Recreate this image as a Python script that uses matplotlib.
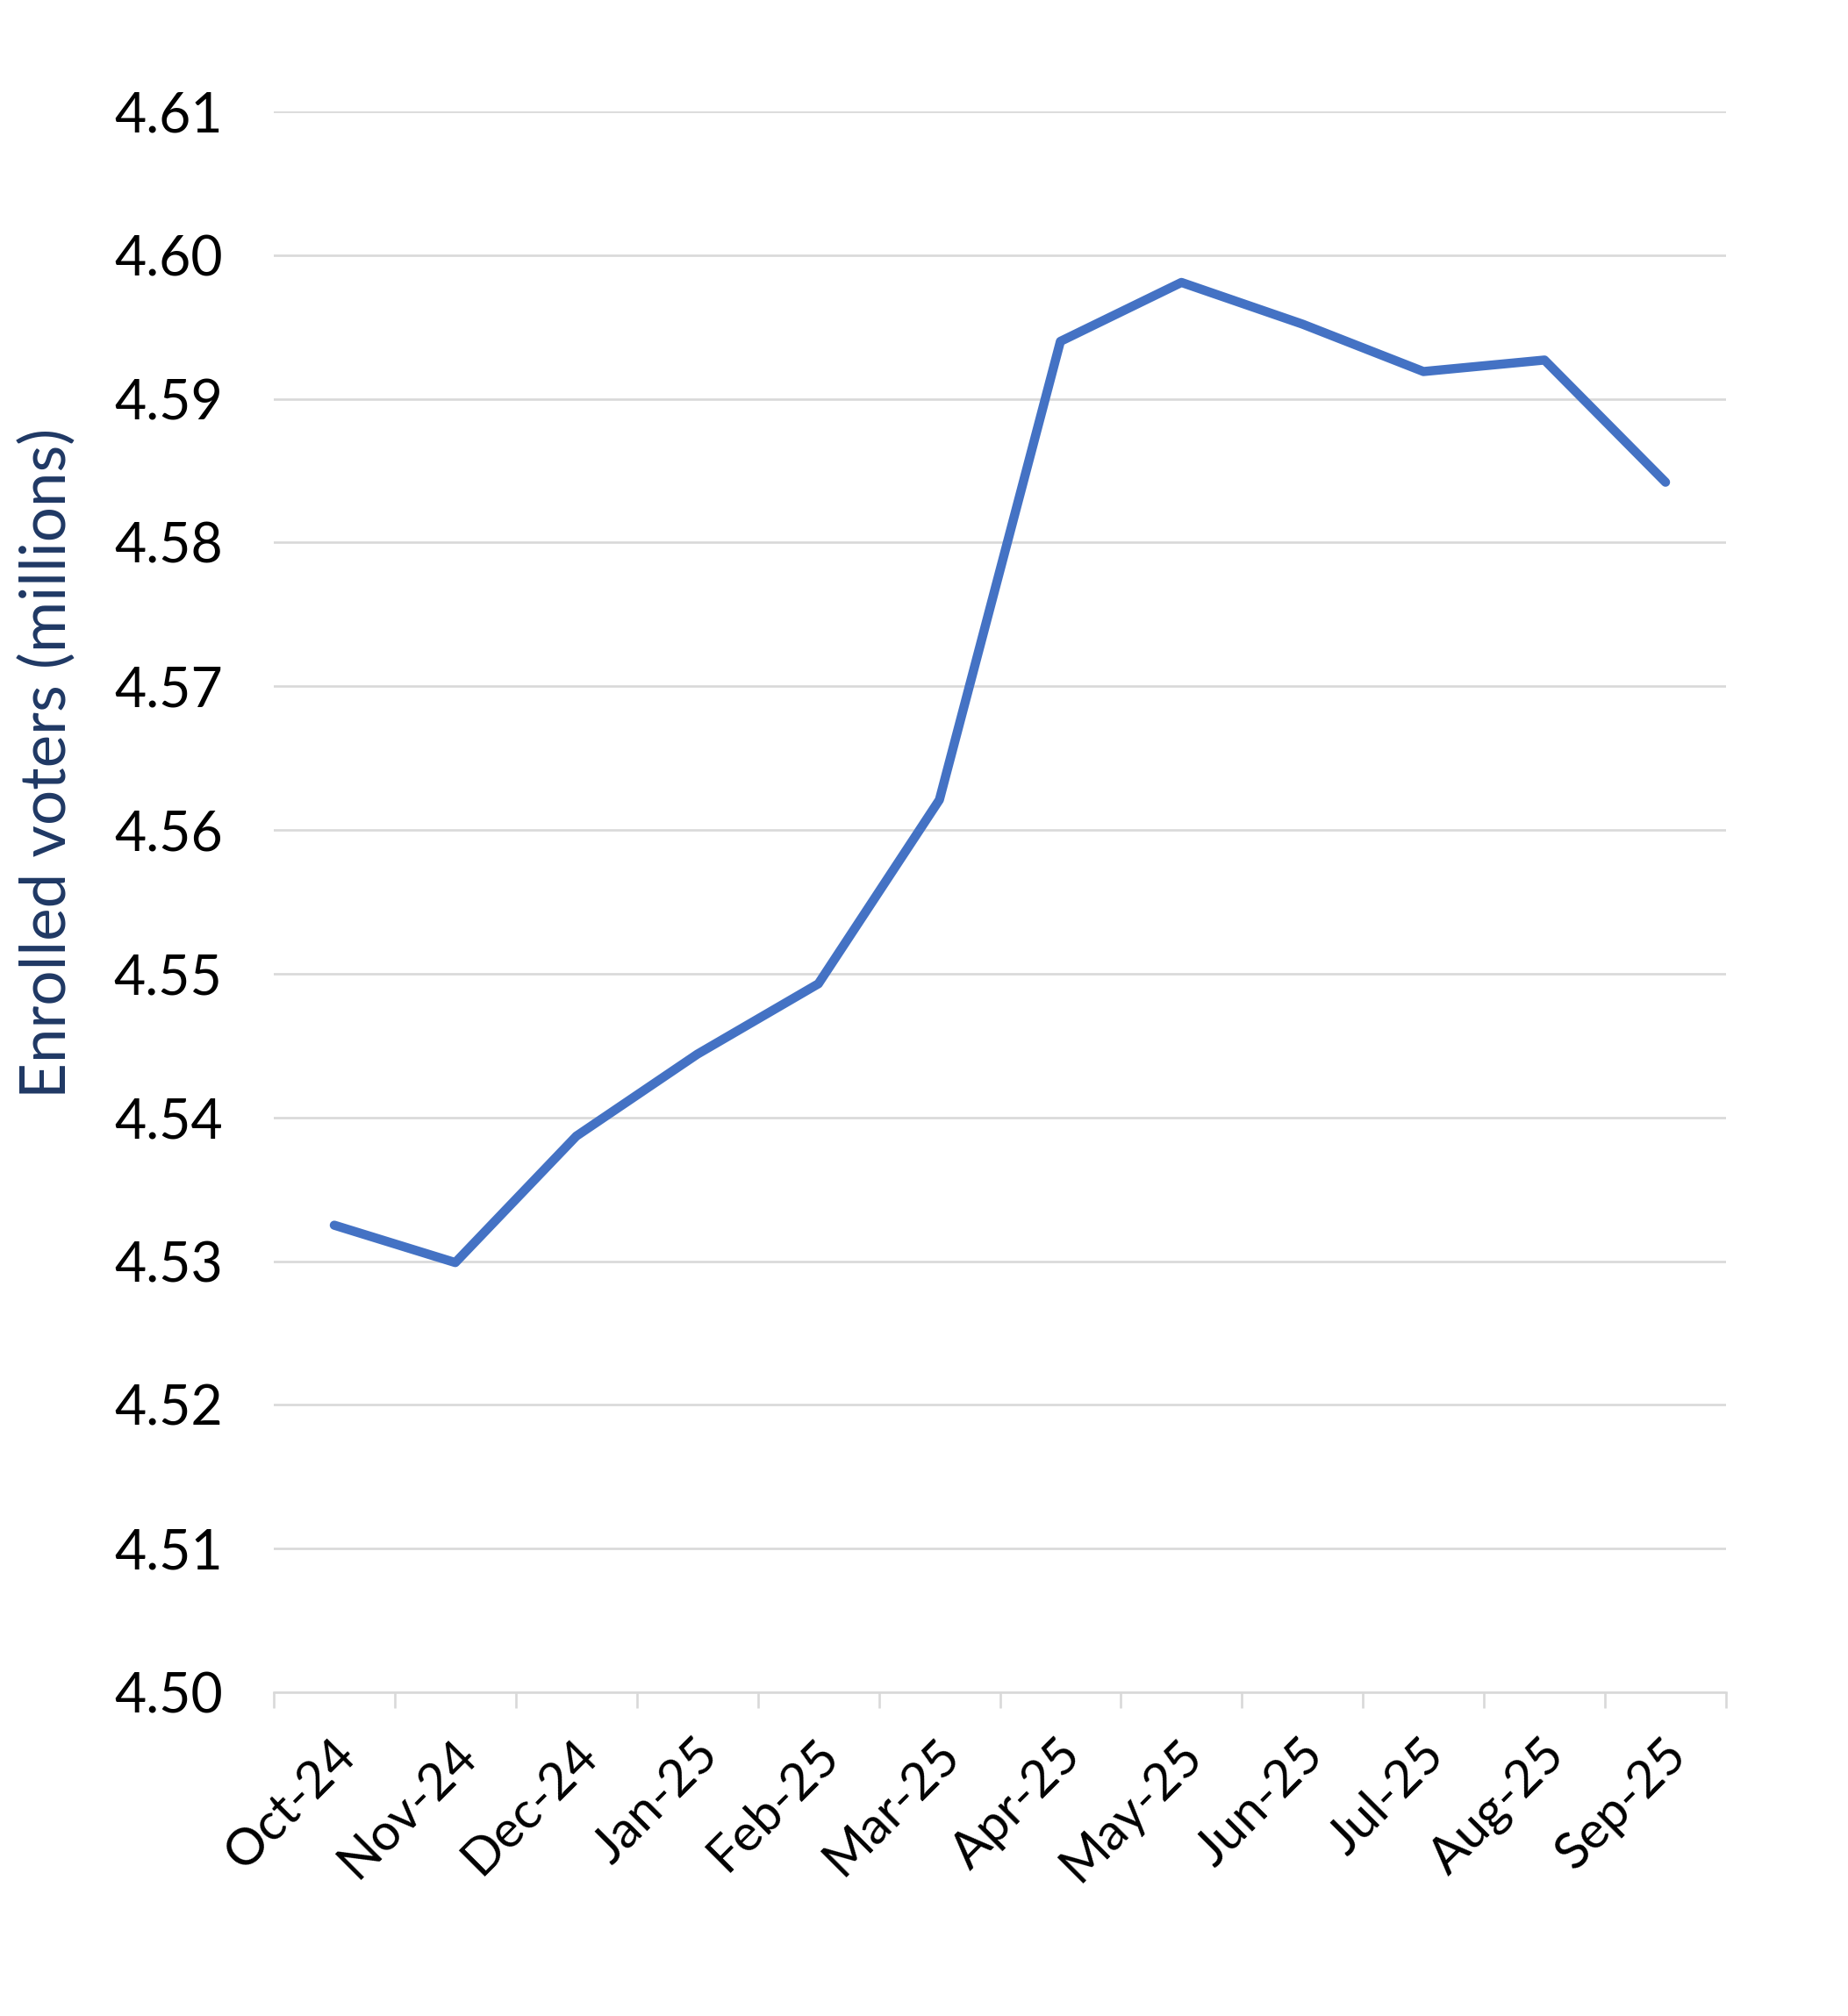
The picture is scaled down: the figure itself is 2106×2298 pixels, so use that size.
import matplotlib.pyplot as plt
from matplotlib.ticker import FixedLocator, NullFormatter
from matplotlib.transforms import ScaledTranslation

months = ['Oct-24', 'Nov-24', 'Dec-24', 'Jan-25', 'Feb-25', 'Mar-25',
          'Apr-25', 'May-25', 'Jun-25', 'Jul-25', 'Aug-25', 'Sep-25']
enrolled = [4.5325, 4.5299, 4.5387, 4.5444, 4.5493, 4.5621,
            4.5940, 4.5981, 4.5952, 4.5919, 4.5927, 4.5842]
y_ticks = [4.50, 4.51, 4.52, 4.53, 4.54, 4.55, 4.56, 4.57, 4.58, 4.59, 4.60, 4.61]

plt.rcParams['font.family'] = ['Lato', 'DejaVu Sans']

W, H, DPI = 2106, 2298, 100
fig = plt.figure(figsize=(W / DPI, H / DPI), dpi=DPI)
ax = fig.add_axes([312 / W, 1 - 1929 / H, (1967 - 312) / W, (1929 - 127) / H])

grid_c = '#d9d9d9'
x = list(range(len(months)))
ax.plot(x, enrolled, color='#4472C4', linewidth=7.5,
        solid_capstyle='round', solid_joinstyle='round', zorder=3)

ax.set_xlim(-0.5, len(months) - 0.5)
ax.set_ylim(y_ticks[0], y_ticks[-1])

# y axis: gridlines, no spine
ax.set_yticks(y_ticks)
ax.set_yticklabels([f'{v:.2f}' for v in y_ticks], fontsize=45, color='black')
ax.tick_params(axis='y', length=0, pad=42)
ax.grid(axis='y', color=grid_c, linewidth=1.9, zorder=0)
ax.set_axisbelow(True)

# x axis: ticks between categories, labels at centres
ax.xaxis.set_major_locator(FixedLocator([i - 0.5 for i in range(len(months) + 1)]))
ax.xaxis.set_major_formatter(NullFormatter())
ax.xaxis.set_minor_locator(FixedLocator(x))
ax.set_xticklabels(months, minor=True, fontsize=42, rotation=45,
                   ha='right', va='center', rotation_mode='anchor')
ax.tick_params(axis='x', which='major', length=13, width=1.9, color=grid_c)
ax.tick_params(axis='x', which='minor', length=0, pad=45)
shift = ScaledTranslation(15 / DPI, 0, fig.dpi_scale_trans)
for lab in ax.get_xticklabels(minor=True):
    lab.set_transform(lab.get_transform() + shift)

for s in ['top', 'right', 'left']:
    ax.spines[s].set_visible(False)
ax.spines['bottom'].set_color(grid_c)
ax.spines['bottom'].set_linewidth(1.9)

fig.text(54 / W, 1 - 870 / H, 'Enrolled voters (millions)', rotation=90,
         fontsize=51, color='#1f3864', ha='center', va='center')

fig.savefig('out.png', dpi=DPI, facecolor='white')
